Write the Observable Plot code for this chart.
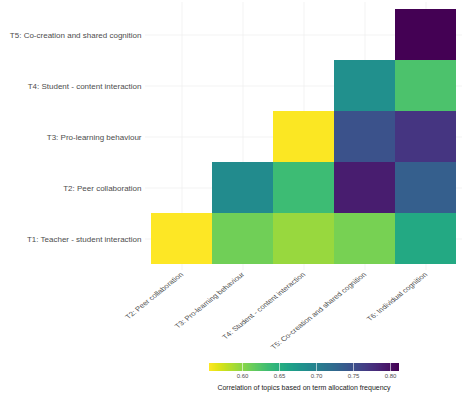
<!DOCTYPE html>
<html>
<head>
<meta charset="utf-8">
<script src="https://cdn.jsdelivr.net/npm/d3@7"></script>
<script src="https://cdn.jsdelivr.net/npm/@observablehq/plot@0.6"></script>
<style>
  html, body { margin: 0; padding: 0; background: #fff; }
  #chart { width: 474px; font-family: "Liberation Sans", Arial, sans-serif; }
  #legend-title { width: 190px; margin-left: 209px; text-align: center; white-space: nowrap;
    font-size: 7px; color: #1a1a1a; line-height: 9px; }
</style>
</head>
<body>
<div id="chart"></div>
<script>
const rows = [
  "T1: Teacher - student interaction",
  "T2: Peer collaboration",
  "T3: Pro-learning behaviour",
  "T4: Student - content interaction",
  "T5: Co-creation and shared cognition"
];
const cols = [
  "T2: Peer collaboration",
  "T3: Pro-learning behaviour",
  "T4: Student - content interaction",
  "T5: Co-creation and shared cognition",
  "T6: Individual cognition"
];
// correlation values, one array per row (null = no cell)
const valuesT1 = [0.556, 0.612, 0.596, 0.609, 0.658];
const valuesT2 = [null, 0.690, 0.637, 0.792, 0.736];
const valuesT3 = [null, null, 0.558, 0.748, 0.773];
const valuesT4 = [null, null, null, 0.685, 0.629];
const valuesT5 = [null, null, null, null, 0.812];
const legendTicks = [0.60, 0.65, 0.70, 0.75, 0.80];
const legendLabel = "Correlation of topics based on term allocation frequency";

const matrix = [valuesT1, valuesT2, valuesT3, valuesT4, valuesT5];
const data = [];
matrix.forEach((vals, i) => vals.forEach((v, j) => {
  if (v != null) data.push({row: rows[i], col: cols[j], value: v});
}));
const extent = d3.extent(data, d => d.value);
const colorOpts = {type: "linear", scheme: "viridis", reverse: true, domain: extent};

const plot = Plot.plot({
  width: 474,
  height: 356,
  marginLeft: 145,
  marginRight: 12,
  marginTop: 2,
  marginBottom: 86,
  style: {fontFamily: "Liberation Sans, Arial, sans-serif", fontSize: "8px", color: "#4d4d4d", background: "#fff"},
  x: {domain: cols, paddingInner: 0, paddingOuter: 0.08, label: null, tickSize: 0, tickPadding: 3, tickRotate: -45},
  y: {domain: rows.slice().reverse(), paddingInner: 0, paddingOuter: 0.11, label: null, tickSize: 0, tickPadding: 4},
  color: colorOpts,
  marks: [
    Plot.gridX({stroke: "#ebebeb", strokeOpacity: 1, strokeWidth: 0.6}),
    Plot.gridY({stroke: "#ebebeb", strokeOpacity: 1, strokeWidth: 0.6}),
    Plot.cell(data, {x: "col", y: "row", fill: "value", inset: 0})
  ]
});

// the reference is slightly squashed vertically: mimic on the rotated x labels
d3.select(plot).selectAll("text").each(function() {
  const t = this.getAttribute("transform");
  if (t && t.includes("rotate(-45)")) {
    this.setAttribute("transform", t.replace("rotate(-45)", "scale(1,0.806) rotate(-45)"));
  }
});

const legend = Plot.legend({
  color: colorOpts,
  width: 400,
  height: 27,
  marginLeft: 209,
  marginRight: 1,
  marginTop: 7,
  marginBottom: 12,
  tickSize: 0,
  ticks: legendTicks,
  tickFormat: d3.format(".2f"),
  label: null,
  style: {fontFamily: "Liberation Sans, Arial, sans-serif", fontSize: "6px", color: "#4d4d4d"}
});
d3.select(legend).selectAll(".tick line").attr("stroke", "#fff").attr("stroke-opacity", 0.6);

const el = document.getElementById("chart");
el.append(plot);
el.append(legend);
const title = document.createElement("div");
title.id = "legend-title";
title.textContent = legendLabel;
el.append(title);
</script>
</body>
</html>
